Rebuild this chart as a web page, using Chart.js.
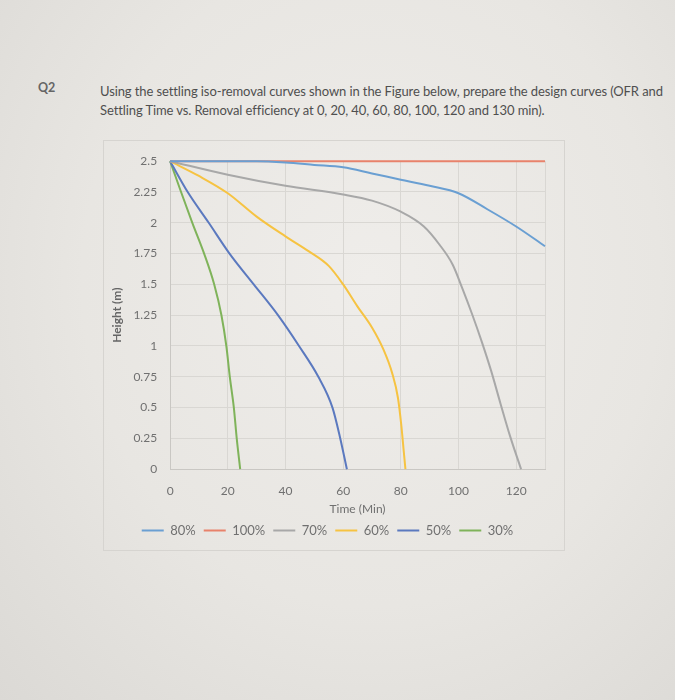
<!DOCTYPE html>
<html>
<head>
<meta charset="utf-8">
<script src="https://cdn.jsdelivr.net/npm/chart.js@4.4.1/dist/chart.umd.min.js"></script>
<style>
  html, body { margin: 0; padding: 0; }
  body {
    width: 675px; height: 700px; position: relative; overflow: hidden;
    background: radial-gradient(ellipse at 55% 40%, #efedea 0%, #e8e6e2 55%, #dbd9d5 100%);
    font-family: Lato, "Open Sans", sans-serif;
  }
  #q { position: absolute; left: 38px; top: 80px; font-size: 12.5px; font-weight: bold; color: #666; }
  #text { position: absolute; left: 100px; top: 82px; font-size: 13px; line-height: 19px; color: #4f4f4f; letter-spacing: -0.1px; white-space: nowrap; }
  #box { position: absolute; left: 103px; top: 140px; width: 462px; height: 411px; border: 1px solid #d6d4d0; box-sizing: border-box; }
  canvas { position: absolute; left: 0; top: 0; }
</style>
</head>
<body>
<div id="q">Q2</div>
<div id="text">Using the settling iso-removal curves shown in the Figure below, prepare the design curves (OFR and<br>Settling Time vs. Removal efficiency at 0, 20, 40, 60, 80, 100, 120 and 130 min).</div>
<div id="box"><canvas id="myChart" width="462" height="411"></canvas></div>
<script>
// tick labels
const xTicks = [0, 20, 40, 60, 80, 100, 120];
const yTicks = [0, 0.25, 0.5, 0.75, 1, 1.25, 1.5, 1.75, 2, 2.25, 2.5];
const xMax = 130;

// curves (time in min, height in m)
const time80 = [0, 30, 40, 50, 60, 70, 80, 90, 100, 110, 120, 130];
const height80 = [2.5, 2.5, 2.49, 2.47, 2.45, 2.40, 2.35, 2.30, 2.24, 2.11, 1.97, 1.81];

const time100 = [0, 130];
const height100 = [2.5, 2.5];

const time70 = [0, 20, 40, 60, 70, 80, 88, 93.5, 98, 101.3, 104.7, 108, 111.3, 114.6, 118, 121.7];
const height70 = [2.5, 2.39, 2.30, 2.23, 2.18, 2.09, 1.97, 1.82, 1.66, 1.47, 1.26, 1.04, 0.80, 0.53, 0.26, 0];

const time60 = [0, 10, 20, 30, 40, 48, 55, 60, 65, 70, 74, 77, 79, 80.2, 81, 81.6];
const height60 = [2.5, 2.38, 2.24, 2.05, 1.89, 1.77, 1.65, 1.50, 1.32, 1.15, 0.97, 0.78, 0.58, 0.35, 0.15, 0];

const time50 = [0, 6.1, 13.4, 20.6, 29, 37.4, 44.7, 51.4, 56.3, 59, 61.3];
const height50 = [2.5, 2.25, 2.0, 1.75, 1.5, 1.25, 1.0, 0.75, 0.5, 0.25, 0];

const time30 = [0, 3.8, 7.7, 11.8, 15.3, 17.8, 19.5, 20.7, 22.1, 23.1, 24.3];
const height30 = [2.5, 2.25, 2.0, 1.75, 1.5, 1.25, 1.0, 0.75, 0.5, 0.25, 0];

const pts = (xs, ys) => xs.map((x, i) => ({ x: x, y: ys[i] }));

const serie = (label, xs, ys, color) => ({
  label: label,
  data: pts(xs, ys),
  borderColor: color,
  backgroundColor: color,
  borderWidth: 2,
  pointRadius: 0,
  pointStyle: 'line',
  clip: false,
  cubicInterpolationMode: 'monotone'
});

const ctx = document.getElementById('myChart');
const txt = '#707070';
const grid = '#d9d7d3';

Chart.defaults.font.family = "Lato, 'Open Sans', sans-serif";
Chart.defaults.font.size = 12;
Chart.defaults.color = txt;

new Chart(ctx, {
  type: 'line',
  data: {
    datasets: [
      serie('80%', time80, height80, '#6a9fd2'),
      serie('100%', time100, height100, '#e8826b'),
      serie('70%', time70, height70, '#a8a8a8'),
      serie('60%', time60, height60, '#f6c342'),
      serie('50%', time50, height50, '#5b79bf'),
      serie('30%', time30, height30, '#7fb35a')
    ]
  },
  options: {
    responsive: false,
    animation: false,
    layout: { padding: { top: 14, right: 21, bottom: 5, left: 6 } },
    plugins: {
      tooltip: { enabled: false },
      legend: {
        position: 'bottom',
        labels: {
          usePointStyle: true, pointStyleWidth: 22, boxHeight: 10,
          padding: 8, color: txt, font: { size: 13 }
        }
      }
    },
    scales: {
      x: {
        type: 'linear',
        min: 0, max: xMax,
        // the last tick only draws the right edge of the plot
        afterBuildTicks: axis => { axis.ticks = xTicks.concat([xMax]).map(v => ({ value: v })); },
        ticks: {
          padding: 15, autoSkip: false, maxRotation: 0,
          callback: v => xTicks.includes(v) ? String(v) : ''
        },
        grid: { color: grid, drawTicks: false },
        border: { color: '#c9c7c3' },
        title: { display: true, text: 'Time (Min)', color: txt, padding: { top: -12, bottom: 0 } }
      },
      y: {
        min: 0, max: 2.5,
        afterBuildTicks: axis => { axis.ticks = yTicks.map(v => ({ value: v })); },
        ticks: { padding: 13, callback: v => String(v) },
        grid: { color: grid, drawTicks: false },
        border: { color: '#c9c7c3' },
        title: { display: true, text: 'Height (m)', color: '#666', font: { weight: 'bold' }, padding: { top: 0, bottom: -4 } }
      }
    }
  }
});
</script>
</body>
</html>
